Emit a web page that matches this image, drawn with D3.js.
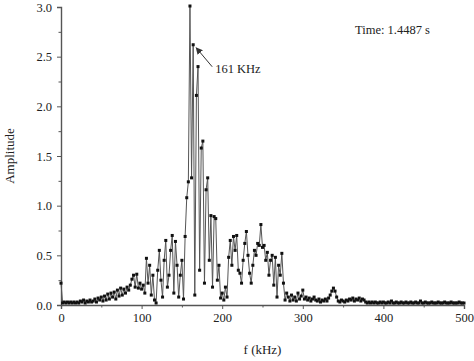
<!DOCTYPE html>
<html>
<head>
<meta charset="utf-8">
<script src="https://cdn.jsdelivr.net/npm/d3@7"></script>
<style>
  html, body { margin: 0; padding: 0; background: #fff; }
  svg text { font-family: "Liberation Serif", "DejaVu Serif", serif; fill: #222; }
</style>
</head>
<body>
<svg id="chart" width="474" height="361"></svg>
<script>
// Frequency step between spectral samples (kHz)
const freqStep = 2;
// Amplitude samples, one per 2 kHz from 0 to 500 kHz
const amplitude = [
  // 0 - 38
  0.22, 0.02, 0.03, 0.02, 0.03, 0.02, 0.03, 0.02, 0.03, 0.02,
  0.03, 0.02, 0.04, 0.03, 0.05, 0.02, 0.04, 0.03, 0.05, 0.03,
  // 40 - 78
  0.04, 0.06, 0.03, 0.07, 0.05, 0.08, 0.04, 0.09, 0.05, 0.11,
  0.06, 0.12, 0.08, 0.13, 0.06, 0.15, 0.09, 0.17, 0.10, 0.16,
  // 80 - 118
  0.12, 0.18, 0.15, 0.20, 0.26, 0.30, 0.18, 0.31, 0.17, 0.22,
  0.16, 0.20, 0.12, 0.47, 0.22, 0.40, 0.10, 0.30, 0.05, 0.02,
  // 120 - 158
  0.35, 0.55, 0.25, 0.08, 0.45, 0.65, 0.18, 0.30, 0.55, 0.70,
  0.12, 0.64, 0.40, 0.08, 0.30, 0.45, 0.06, 0.69, 1.08, 1.24,
  // 160 - 198
  3.01, 1.28, 2.62, 0.10, 2.11, 2.40, 0.35, 1.58, 1.65, 0.22,
  1.16, 1.28, 0.45, 0.90, 0.18, 0.89, 0.87, 0.25, 0.40, 0.07,
  // 200 - 238
  0.12, 0.05, 0.18, 0.08, 0.48, 0.65, 0.40, 0.69, 0.55, 0.70,
  0.35, 0.32, 0.22, 0.45, 0.62, 0.74, 0.50, 0.32, 0.22, 0.40,
  // 240 - 278
  0.55, 0.50, 0.62, 0.60, 0.81, 0.58, 0.60, 0.45, 0.53, 0.30,
  0.45, 0.50, 0.20, 0.48, 0.08, 0.40, 0.30, 0.52, 0.22, 0.05,
  // 280 - 318
  0.12, 0.08, 0.04, 0.10, 0.05, 0.08, 0.04, 0.12, 0.06, 0.09,
  0.15, 0.06, 0.08, 0.05, 0.07, 0.04, 0.06, 0.08, 0.05, 0.04,
  // 320 - 358
  0.06, 0.03, 0.05, 0.04, 0.06, 0.04, 0.07, 0.10, 0.14, 0.17,
  0.14, 0.08, 0.04, 0.03, 0.05, 0.04, 0.03, 0.05, 0.04, 0.06,
  // 360 - 398
  0.05, 0.07, 0.04, 0.06, 0.05, 0.07, 0.04, 0.06, 0.05, 0.03,
  0.02, 0.03, 0.02, 0.03, 0.02, 0.03, 0.02, 0.02, 0.03, 0.02,
  // 400 - 438
  0.03, 0.02, 0.02, 0.03, 0.02, 0.04, 0.02, 0.02, 0.03, 0.02,
  0.02, 0.03, 0.02, 0.02, 0.03, 0.02, 0.02, 0.03, 0.02, 0.02,
  // 440 - 478
  0.03, 0.02, 0.02, 0.04, 0.02, 0.02, 0.03, 0.02, 0.02, 0.02,
  0.03, 0.02, 0.02, 0.02, 0.03, 0.02, 0.02, 0.02, 0.03, 0.02,
  // 480 - 500
  0.02, 0.02, 0.03, 0.02, 0.02, 0.02, 0.02, 0.03, 0.02, 0.02,
  0.02
];
const frequency = amplitude.map((_, i) => i * freqStep);

const xTicks = [0, 100, 200, 300, 400, 500];
const xMinorTicks = [50, 150, 250, 350, 450];
const yTicks = [0, 0.5, 1.0, 1.5, 2.0, 2.5, 3.0];
const yMinorTicks = [0.25, 0.75, 1.25, 1.75, 2.25, 2.75];
const xLabel = "f (kHz)";
const yLabel = "Amplitude";
const timeLabel = "Time: 1.4487 s";
const peakLabel = "161 KHz";
const peakIndex = 82;

const data = frequency.map((f, i) => ({ f, a: amplitude[i] }));

const svg = d3.select("#chart");
const margin = { left: 61, right: 10, top: 7, bottom: 56 };
const W = 474, H = 361;

const x = d3.scaleLinear().domain([0, 500]).range([margin.left, W - margin.right]);
const y = d3.scaleLinear().domain([0, 3.0]).range([H - margin.bottom, margin.top]);

const axisColor = "#555";

// X axis
const gx = svg.append("g").attr("transform", `translate(0,${y(0)})`);
gx.call(d3.axisBottom(x).tickValues(xTicks).tickFormat(d3.format("d")).tickSize(4).tickPadding(4));
const gxm = svg.append("g").attr("transform", `translate(0,${y(0)})`);
gxm.call(d3.axisBottom(x).tickValues(xMinorTicks).tickFormat("").tickSize(2.5));
gxm.select(".domain").remove();

// Y axis
const gy = svg.append("g").attr("transform", `translate(${x(0)},0)`);
gy.call(d3.axisLeft(y).tickValues(yTicks).tickFormat(d3.format(".1f")).tickSize(4).tickPadding(5));
const gym = svg.append("g").attr("transform", `translate(${x(0)},0)`);
gym.call(d3.axisLeft(y).tickValues(yMinorTicks).tickFormat("").tickSize(2.5));
gym.select(".domain").remove();

svg.selectAll(".domain").attr("stroke", axisColor).attr("stroke-width", 1.4);
svg.selectAll(".tick line").attr("stroke", axisColor).attr("stroke-width", 1);
svg.selectAll(".tick text")
  .attr("font-family", '"Liberation Serif", serif')
  .attr("font-size", 12.5)
  .attr("fill", "#222");

// Line
svg.append("path")
  .datum(data)
  .attr("fill", "none")
  .attr("stroke", "#555")
  .attr("stroke-width", 1)
  .attr("d", d3.line().x(d => x(d.f)).y(d => y(d.a)));

// Markers
svg.append("g").selectAll("rect")
  .data(data)
  .join("rect")
  .attr("x", d => x(d.f) - 1.5)
  .attr("y", d => y(d.a) - 1.5)
  .attr("width", 3)
  .attr("height", 3)
  .attr("fill", "#111");

// Axis labels
svg.append("text")
  .attr("x", (x(0) + x(500)) / 2)
  .attr("y", 354)
  .attr("text-anchor", "middle")
  .attr("font-size", 13)
  .text(xLabel);

svg.append("text")
  .attr("transform", `translate(14,${(y(0) + y(3)) / 2}) rotate(-90)`)
  .attr("text-anchor", "middle")
  .attr("font-size", 13)
  .text(yLabel);

// Time annotation
svg.append("text")
  .attr("x", 355)
  .attr("y", 34)
  .attr("font-size", 12.5)
  .text(timeLabel);

// Peak annotation with arrow
const px = x(frequency[peakIndex]), py = y(amplitude[peakIndex]);
svg.append("defs").append("marker")
  .attr("id", "arrow")
  .attr("viewBox", "0 0 10 10")
  .attr("refX", 9).attr("refY", 5)
  .attr("markerWidth", 7).attr("markerHeight", 7)
  .attr("orient", "auto")
  .append("path").attr("d", "M0,0 L10,5 L0,10 Z").attr("fill", "#333");
svg.append("line")
  .attr("x1", px + 19).attr("y1", py + 22)
  .attr("x2", px + 3).attr("y2", py + 3)
  .attr("stroke", "#333").attr("stroke-width", 1)
  .attr("marker-end", "url(#arrow)");
svg.append("text")
  .attr("x", px + 22)
  .attr("y", py + 28)
  .attr("font-size", 12.5)
  .text(peakLabel);
</script>
</body>
</html>
